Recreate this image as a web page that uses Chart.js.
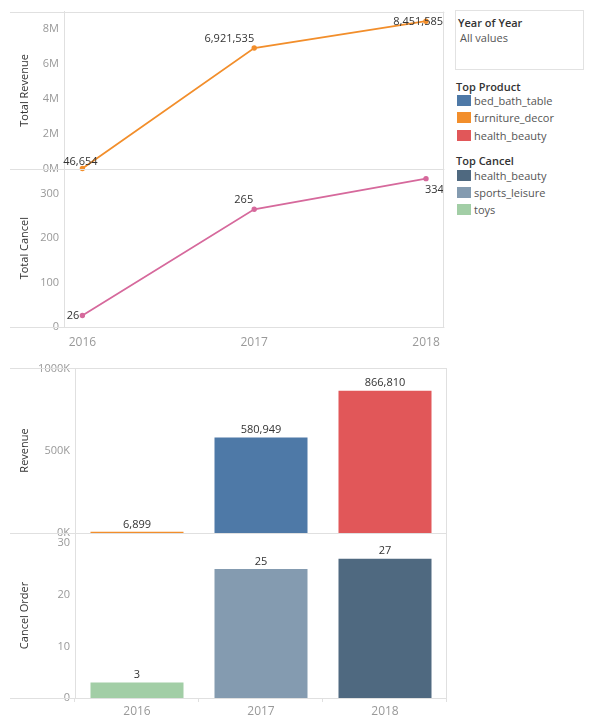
<!DOCTYPE html>
<html>
<head>
<meta charset="utf-8">
<script src="https://cdn.jsdelivr.net/npm/chart.js@4/dist/chart.umd.min.js"></script>
<style>
  html, body { margin: 0; padding: 0; background: #fff; }
  body { width: 593px; height: 728px; position: relative; overflow: hidden; font-family: "Open Sans", "Noto Sans", sans-serif; }
  #c1 { position: absolute; left: 0; top: 0; }
  #c2 { position: absolute; left: 0; top: 355px; }
  .legend { position: absolute; font-size: 11px; color: #555; white-space: nowrap; }
  .box { position: absolute; left: 455px; top: 10px; width: 127px; height: 58px; border: 1px solid #e2e2e2; }
  .title { color: #333; font-weight: 600; }
  .sw { display: inline-block; width: 14px; height: 11px; vertical-align: -1px; margin-right: 3px; }
</style>
</head>
<body>
<canvas id="c1" width="448" height="350"></canvas>
<canvas id="c2" width="448" height="373"></canvas>

<div class="box"></div>
<div class="legend title" style="left:458px;top:15px;">Year of Year</div>
<div class="legend" style="left:460px;top:30px;">All values</div>
<div class="legend title" style="left:456px;top:79px;">Top Product</div>
<div class="legend" style="left:457px;top:93px;"><span class="sw" style="background:#4E79A7"></span>bed_bath_table</div>
<div class="legend" style="left:457px;top:110px;"><span class="sw" style="background:#F28E2B"></span>furniture_decor</div>
<div class="legend" style="left:457px;top:128px;"><span class="sw" style="background:#E15759"></span>health_beauty</div>
<div class="legend title" style="left:456px;top:153px;">Top Cancel</div>
<div class="legend" style="left:457px;top:168px;"><span class="sw" style="background:#4F6980"></span>health_beauty</div>
<div class="legend" style="left:457px;top:185px;"><span class="sw" style="background:#849BB0"></span>sports_leisure</div>
<div class="legend" style="left:457px;top:202px;"><span class="sw" style="background:#A2CEA6"></span>toys</div>

<script>
// ---- data ----
const years = [2016, 2017, 2018];
const yearLabels = ['2016', '2017', '2018'];
const totalRevenue = [46654, 6921535, 8451585];
const totalCancel = [26, 265, 334];
const revenue = [6899, 580949, 866810];
const cancelOrder = [3, 25, 27];
const topProduct = ['furniture_decor', 'bed_bath_table', 'health_beauty'];
const topCancel = ['toys', 'sports_leisure', 'health_beauty'];

// tick values
const totalRevenueTicks = [0, 2000000, 4000000, 6000000, 8000000];
const totalCancelTicks = [0, 100, 200, 300];
const revenueTicks = [0, 500000, 1000000];
const cancelOrderTicks = [0, 10, 20, 30];

// ---- styles ----
const productColors = { bed_bath_table: '#4E79A7', furniture_decor: '#F28E2B', health_beauty: '#E15759' };
const cancelColors = { health_beauty: '#4F6980', sports_leisure: '#849BB0', toys: '#A2CEA6' };
const FONT = '"Open Sans", "Noto Sans", sans-serif';
const LINE_COL = '#e0e0e0';
const TICK_COL = '#999';
const TXT_COL = '#333';
const fmt = v => v.toLocaleString('en-US');

// label placement for line chart (style only): [align, dx, dy]
const revLabelPos = [['center', -2, -7], ['right', 0, -9], ['right', 17, 1]];
const canLabelPos = [['right', -3, 0], ['right', -1, -9], ['left', -1, 11]];

const frame = {
  id: 'frame',
  afterDraw(chart, args, opts) {
    const ctx = chart.ctx, a = chart.chartArea;
    ctx.save();
    ctx.strokeStyle = LINE_COL; ctx.lineWidth = 1;
    const ys = [a.top, chart.scales[opts.mid].bottom, a.bottom];
    ctx.beginPath();
    ys.forEach(y => { const yy = Math.round(y) + 0.5; ctx.moveTo(10, yy); ctx.lineTo(a.right, yy); });
    ctx.moveTo(Math.round(a.right) - 0.5, a.top); ctx.lineTo(Math.round(a.right) - 0.5, a.bottom);
    if (opts.catTicks) {
      const n = yearLabels.length, w = (a.right - a.left) / n;
      for (let i = 0; i <= n; i++) {
        const x = Math.round(a.left + i * w) - 0.5;
        ctx.moveTo(x, a.bottom); ctx.lineTo(x, a.bottom + 4);
      }
    }
    ctx.stroke();
    ctx.restore();
  }
};

const lineLabels = {
  id: 'lineLabels',
  afterDatasetsDraw(chart) {
    const ctx = chart.ctx;
    ctx.save();
    ctx.font = '11px ' + FONT;
    ctx.fillStyle = TXT_COL;
    ctx.textBaseline = 'middle';
    chart.data.datasets.forEach((ds, di) => {
      const meta = chart.getDatasetMeta(di);
      const pos = ds.labelPos;
      meta.data.forEach((pt, i) => {
        const [al, dx, dy] = pos[i];
        ctx.textAlign = al;
        ctx.fillText(fmt(ds.data[i].y), pt.x + dx, pt.y + dy);
      });
    });
    ctx.restore();
  }
};

const barLabels = {
  id: 'barLabels',
  afterDatasetsDraw(chart) {
    const ctx = chart.ctx;
    ctx.save();
    ctx.font = '11px ' + FONT;
    ctx.fillStyle = TXT_COL;
    ctx.textAlign = 'center';
    ctx.textBaseline = 'bottom';
    chart.data.datasets.forEach((ds, di) => {
      const meta = chart.getDatasetMeta(di);
      meta.data.forEach((bar, i) => {
        ctx.fillText(fmt(ds.data[i]), bar.x, bar.y - 2);
      });
    });
    ctx.restore();
  }
};

const yTitle = (text) => ({ display: true, text, color: TXT_COL, font: { family: FONT, size: 11 }, padding: { top: 18, bottom: 0 } });
const yTicks = (cb) => ({ color: TICK_COL, font: { family: FONT, size: 11 }, callback: cb, padding: 5 });
const fitW = w => (s => { s.width = w; });
const setTicks = arr => (s => { s.ticks = arr.map(v => ({ value: v })); });

Chart.defaults.font.family = FONT;
Chart.defaults.animation = false;

// ---- top: line charts ----
new Chart(document.getElementById('c1'), {
  type: 'line',
  data: {
    datasets: [
      {
        label: 'Total Cancel', yAxisID: 'yC',
        data: years.map((y, i) => ({ x: y, y: totalCancel[i] })),
        borderColor: '#D6699C', backgroundColor: '#D6699C', borderWidth: 1.8,
        pointRadius: 1.8, pointHoverRadius: 1.8, labelPos: canLabelPos
      },
      {
        label: 'Total Revenue', yAxisID: 'yR',
        data: years.map((y, i) => ({ x: y, y: totalRevenue[i] })),
        borderColor: '#F28E2B', backgroundColor: '#F28E2B', borderWidth: 1.8,
        pointRadius: 1.8, pointHoverRadius: 1.8, labelPos: revLabelPos
      }
    ]
  },
  options: {
    responsive: false, devicePixelRatio: 1,
    clip: false,
    layout: { padding: { top: 10, right: 1, left: 0, bottom: 0 } },
    plugins: { legend: { display: false }, tooltip: { enabled: false }, frame: { mid: 'yR' } },
    scales: {
      x: {
        type: 'linear', min: 2015.893, max: 2018.107,
        afterBuildTicks: setTicks(years),
        afterFit: s => { s.height = 23; },
        grid: { display: false, drawTicks: false }, border: { display: false },
        ticks: { color: TICK_COL, font: { family: FONT, size: 12 }, padding: 8, callback: v => String(v) }
      },
      yC: {
        position: 'left', stack: 'left', stackWeight: 1, min: 0, max: 355,
        afterBuildTicks: setTicks(totalCancelTicks),
        afterFit: fitW(64), grid: { display: false, drawTicks: false },
        border: { display: true, color: LINE_COL },
        ticks: yTicks(v => String(v)), title: yTitle('Total Cancel')
      },
      yR: {
        position: 'left', stack: 'left', stackWeight: 1, min: 0, max: 9000000,
        afterBuildTicks: setTicks(totalRevenueTicks),
        afterFit: fitW(64), grid: { display: false, drawTicks: false },
        border: { display: true, color: LINE_COL },
        ticks: yTicks(v => (v / 1e6) + 'M'), title: yTitle('Total Revenue')
      }
    }
  },
  plugins: [frame, lineLabels]
});

// ---- bottom: bar charts ----
new Chart(document.getElementById('c2'), {
  type: 'bar',
  data: {
    labels: yearLabels,
    datasets: [
      {
        label: 'Cancel Order', yAxisID: 'yC', data: cancelOrder, grouped: false,
        backgroundColor: topCancel.map(c => cancelColors[c]),
        barPercentage: 0.75, categoryPercentage: 1
      },
      {
        label: 'Revenue', yAxisID: 'yR', data: revenue, grouped: false,
        backgroundColor: topProduct.map(c => productColors[c]),
        barPercentage: 0.75, categoryPercentage: 1
      }
    ]
  },
  options: {
    responsive: false, devicePixelRatio: 1,
    layout: { padding: { top: 13, right: 1, left: 0, bottom: 0 } },
    plugins: { legend: { display: false }, tooltip: { enabled: false }, frame: { mid: 'yR', catTicks: true } },
    scales: {
      x: {
        afterFit: s => { s.height = 30; },
        grid: { display: false, drawTicks: false }, border: { display: false },
        ticks: { color: TICK_COL, font: { family: FONT, size: 12 }, padding: 6 }
      },
      yC: {
        position: 'left', stack: 'left', stackWeight: 1, min: 0, max: 32,
        afterBuildTicks: setTicks(cancelOrderTicks),
        afterFit: fitW(75), grid: { display: false, drawTicks: false },
        border: { display: true, color: LINE_COL },
        ticks: yTicks(v => String(v)), title: yTitle('Cancel Order')
      },
      yR: {
        position: 'left', stack: 'left', stackWeight: 1, min: 0, max: 1005000,
        afterBuildTicks: setTicks(revenueTicks),
        afterFit: fitW(75), grid: { display: false, drawTicks: false },
        border: { display: true, color: LINE_COL },
        ticks: yTicks(v => (v / 1000) + 'K'), title: yTitle('Revenue')
      }
    }
  },
  plugins: [frame, barLabels]
});
</script>
</body>
</html>
